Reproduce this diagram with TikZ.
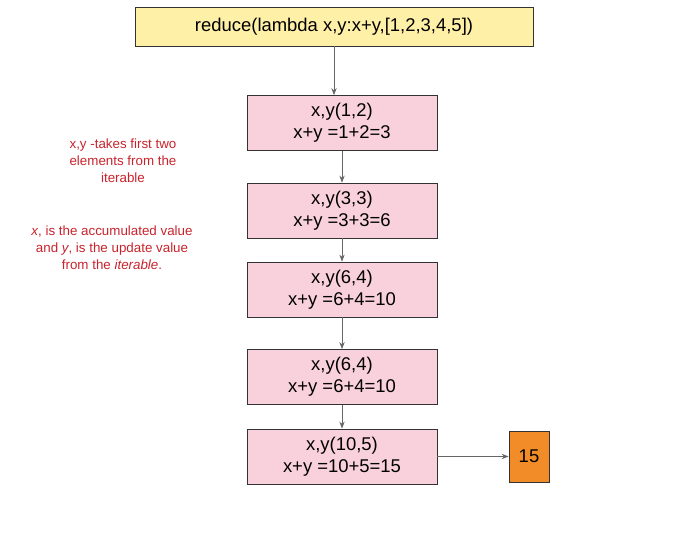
\documentclass[tikz,border=0pt]{standalone}
\usepackage{fontspec}
\setmainfont{Liberation Sans}
\usetikzlibrary{arrows.meta}
\definecolor{topfill}{HTML}{FFF0A8}
\definecolor{stepfill}{HTML}{F9D1DC}
\definecolor{resfill}{HTML}{F28C28}
\definecolor{notered}{HTML}{C8232C}
\tikzset{
    stepbox/.style={draw=black!80,fill=stepfill,minimum width=190*0.02cm,minimum height=55*0.02cm,align=center,font=\fontsize{10.5}{12.5}\selectfont},
    flow/.style={draw=black!60,-{Stealth[length=4pt,width=3pt]}},
    note/.style={text=notered,align=center,font=\fontsize{7.6}{9.6}\selectfont}
}
\begin{document}
\begin{tikzpicture}[x=0.02cm,y=-0.02cm]
        \useasboundingbox (0,0) rectangle (700,540);
        % Boxes
        \node [draw=black!80,fill=topfill,minimum width=398*0.02cm,minimum height=39*0.02cm,font=\fontsize{10.5}{12.5}\selectfont]
            (top) at (334,26.5) {reduce(lambda x,y:x+y,[1,2,3,4,5])};
        \node [stepbox] (s1) at (342,123)   {x,y(1,2)\\x+y =1+2=3};
        \node [stepbox] (s2) at (342,210.5) {x,y(3,3)\\x+y =3+3=6};
        \node [stepbox] (s3) at (342,289.5) {x,y(6,4)\\x+y =6+4=10};
        \node [stepbox] (s4) at (342,377)   {x,y(6,4)\\x+y =6+4=10};
        \node [stepbox] (s5) at (342,456.5) {x,y(10,5)\\x+y =10+5=15};
        \node [draw=black!80,fill=resfill,minimum width=40*0.02cm,minimum height=51*0.02cm,font=\fontsize{10.5}{12.5}\selectfont]
            (res) at (529,456.5) {15};

        % Connectors
        \draw [flow] (top.south) -- (top.south |- s1.north);
        \draw [flow] (s1) -- (s2);
        \draw [flow] (s2) -- (s3);
        \draw [flow] (s3) -- (s4);
        \draw [flow] (s4) -- (s5);
        \draw [flow] (s5) -- (res);

        % Notes
        \node [note] (n1) at (123,161) {x,y -takes first two\\elements from the\\iterable};
        \node [note] (n2) at (112,248) {\textit{x}, is the accumulated value\\and \textit{y}, is the update value\\from the \textit{iterable}.};
    \end{tikzpicture}
\end{document}
